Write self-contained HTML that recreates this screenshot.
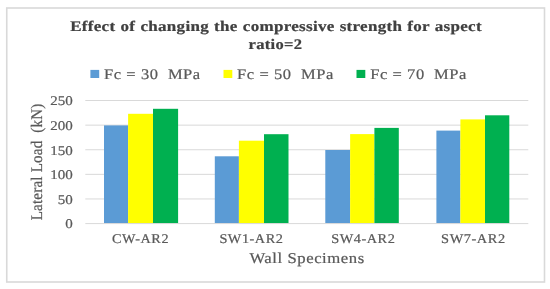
<!DOCTYPE html>
<html><head><meta charset="utf-8">
<style>
html,body{margin:0;padding:0;background:#fff;}
svg{display:block;}
text{font-family:"Liberation Serif","Times New Roman",serif;white-space:pre;text-rendering:geometricPrecision;stroke-width:0.22px;stroke-linejoin:round;}
</style></head>
<body>
<svg width="550" height="289" viewBox="0 0 550 289">
<rect x="0" y="0" width="550" height="289" fill="#ffffff"/>
<rect x="6.75" y="8" width="537.75" height="274" fill="#ffffff" stroke="#d9d9d9" stroke-width="1.6"/>
<g stroke="#d9d9d9" stroke-width="1">
<line x1="85.3" x2="528.3" y1="198.95" y2="198.95"/>
<line x1="85.3" x2="528.3" y1="174.35" y2="174.35"/>
<line x1="85.3" x2="528.3" y1="149.75" y2="149.75"/>
<line x1="85.3" x2="528.3" y1="125.15" y2="125.15"/>
<line x1="85.3" x2="528.3" y1="100.50" y2="100.50"/>
</g>
<rect x="104.00" y="125.40" width="24.10" height="97.90" fill="#5b9bd5"/>
<rect x="128.10" y="113.80" width="24.90" height="109.50" fill="#ffff00"/>
<rect x="153.00" y="108.80" width="25.10" height="114.50" fill="#00b050"/>
<rect x="214.80" y="156.30" width="24.10" height="67.00" fill="#5b9bd5"/>
<rect x="238.90" y="140.70" width="25.10" height="82.60" fill="#ffff00"/>
<rect x="264.00" y="134.20" width="24.50" height="89.10" fill="#00b050"/>
<rect x="325.30" y="150.00" width="24.85" height="73.30" fill="#5b9bd5"/>
<rect x="350.15" y="134.10" width="24.25" height="89.20" fill="#ffff00"/>
<rect x="374.40" y="127.90" width="24.40" height="95.40" fill="#00b050"/>
<rect x="436.40" y="130.60" width="24.00" height="92.70" fill="#5b9bd5"/>
<rect x="460.40" y="119.40" width="24.60" height="103.90" fill="#ffff00"/>
<rect x="485.00" y="115.30" width="24.30" height="108.00" fill="#00b050"/>
<line x1="85.3" x2="528.3" y1="223.60" y2="223.60" stroke="#d9d9d9" stroke-width="1"/>
<rect x="90.4" y="69.9" width="8.8" height="8.1" fill="#5b9bd5"/>
<rect x="223.5" y="69.9" width="8.8" height="8.1" fill="#ffff00"/>
<rect x="356.5" y="69.9" width="8.8" height="8.1" fill="#00b050"/>
<text transform="translate(70.20,31.20) scale(1.1615,1)" font-size="14.67" font-weight="bold" letter-spacing="0.25" word-spacing="0.5" fill="#404040" stroke="#404040" xml:space="preserve">Effect of changing the compressive strength for aspect</text>
<text transform="translate(248.60,49.30) scale(1.1269,1)" font-size="14.67" font-weight="bold" letter-spacing="0.25" word-spacing="0.5" fill="#404040" stroke="#404040" xml:space="preserve">ratio=2</text>
<text transform="translate(104.00,78.50) scale(1.1260,1)" font-size="14.67" font-weight="normal" letter-spacing="0.5" word-spacing="0" fill="#595959" stroke="#595959" xml:space="preserve">Fc = 30  MPa</text>
<text transform="translate(237.10,78.50) scale(1.1260,1)" font-size="14.67" font-weight="normal" letter-spacing="0.5" word-spacing="0" fill="#595959" stroke="#595959" xml:space="preserve">Fc = 50  MPa</text>
<text transform="translate(370.20,78.50) scale(1.1260,1)" font-size="14.67" font-weight="normal" letter-spacing="0.5" word-spacing="0" fill="#595959" stroke="#595959" xml:space="preserve">Fc = 70  MPa</text>
<text transform="translate(50.20,105.30) scale(1.1200,1)" font-size="13.4" font-weight="normal" letter-spacing="0" word-spacing="0" fill="#595959" stroke="#595959" xml:space="preserve">250</text>
<text transform="translate(50.20,129.90) scale(1.1200,1)" font-size="13.4" font-weight="normal" letter-spacing="0" word-spacing="0" fill="#595959" stroke="#595959" xml:space="preserve">200</text>
<text transform="translate(50.20,154.50) scale(1.1200,1)" font-size="13.4" font-weight="normal" letter-spacing="0" word-spacing="0" fill="#595959" stroke="#595959" xml:space="preserve">150</text>
<text transform="translate(50.20,179.10) scale(1.1200,1)" font-size="13.4" font-weight="normal" letter-spacing="0" word-spacing="0" fill="#595959" stroke="#595959" xml:space="preserve">100</text>
<text transform="translate(57.70,203.70) scale(1.1200,1)" font-size="13.4" font-weight="normal" letter-spacing="0" word-spacing="0" fill="#595959" stroke="#595959" xml:space="preserve">50</text>
<text transform="translate(65.19,228.20) scale(1.1200,1)" font-size="13.4" font-weight="normal" letter-spacing="0" word-spacing="0" fill="#595959" stroke="#595959" xml:space="preserve">0</text>
<text transform="translate(112.10,242.80) scale(1.0623,1)" font-size="13.4" font-weight="normal" letter-spacing="0.5" word-spacing="0" fill="#595959" stroke="#595959" xml:space="preserve">CW-AR2</text>
<text transform="translate(219.40,242.80) scale(1.0664,1)" font-size="13.4" font-weight="normal" letter-spacing="0.5" word-spacing="0" fill="#595959" stroke="#595959" xml:space="preserve">SW1-AR2</text>
<text transform="translate(331.20,242.80) scale(1.0681,1)" font-size="13.4" font-weight="normal" letter-spacing="0.5" word-spacing="0" fill="#595959" stroke="#595959" xml:space="preserve">SW4-AR2</text>
<text transform="translate(441.10,242.80) scale(1.0748,1)" font-size="13.4" font-weight="normal" letter-spacing="0.5" word-spacing="0" fill="#595959" stroke="#595959" xml:space="preserve">SW7-AR2</text>
<text transform="translate(249.40,262.90) scale(1.1125,1)" font-size="15" font-weight="normal" letter-spacing="0.5" word-spacing="0" fill="#595959" stroke="#595959" xml:space="preserve">Wall Specimens</text>
<text transform="translate(41.60,220.30) rotate(-90) scale(1.0257,1.100)" font-size="14.67" font-weight="normal" letter-spacing="0.2" fill="#595959" stroke="#595959" xml:space="preserve">Lateral Load  (kN)</text>
</svg>
</body></html>
